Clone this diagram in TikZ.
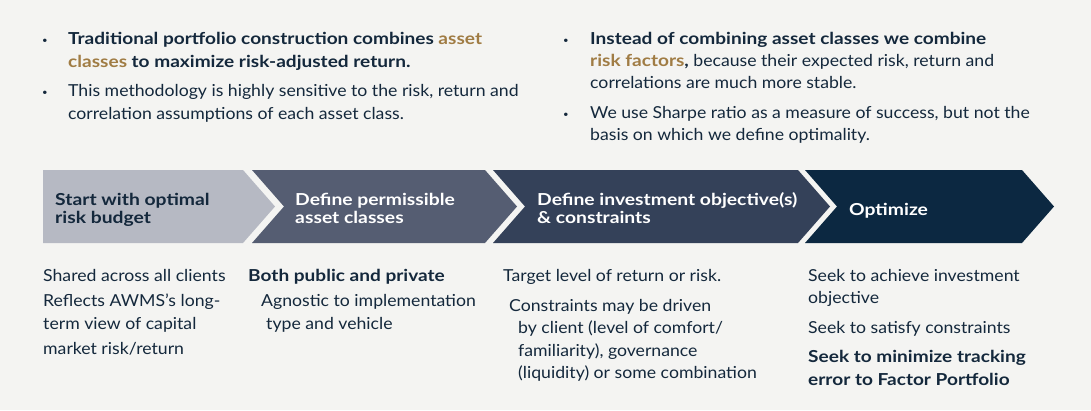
\documentclass[tikz,border=0pt]{standalone}
\usepackage{fontspec}
\setmainfont{Lato}[FakeStretch=1.07]
\newfontfamily\bfam{Lato}[FakeStretch=1.155]
\newfontfamily\cfam{Lato}[FakeStretch=1.17]
\definecolor{bgc}{HTML}{F4F4F2}
\definecolor{navy}{HTML}{14283C}
\definecolor{gold}{HTML}{A07C44}
\definecolor{chA}{HTML}{B6B9C3}
\definecolor{chB}{HTML}{555D72}
\definecolor{chC}{HTML}{344159}
\definecolor{chD}{HTML}{0C2841}
\tikzset{
  txt/.style={anchor=base west, inner sep=0pt, text=navy, font=\fontsize{16.5}{19}\selectfont},
  btxt/.style={txt, font=\fontsize{16.5}{19}\selectfont\bfam\bfseries},
  bul/.style={anchor=base, inner sep=0pt, text=navy, font=\fontsize{9}{10}\selectfont},
  chlab/.style={anchor=base west, inner sep=0pt, text=white, font=\fontsize{16.5}{18}\selectfont\cfam\bfseries},
}
\begin{document}
\begin{tikzpicture}[x=1pt,y=-1pt]
\fill[bgc] (0,0) rectangle (1091,410);
\useasboundingbox (0,0) rectangle (1091,410);

% top left
\node[bul] (b1) at (45,43) {•};
\node[btxt] (tl1) at (68,44) {Traditional portfolio construction combines \textcolor{gold}{asset}};
\node[btxt] (tl2) at (68,67) {\textcolor{gold}{classes} to maximize risk-adjusted return.};
\node[bul] (b2) at (45,95) {•};
\node[txt] (tl3) at (68,96) {This methodology is highly sensitive to the risk, return and};
\node[txt] (tl4) at (68,119) {correlation assumptions of each asset class.};

% top right
\node[bul] (b3) at (566,43) {•};
\node[btxt] (tr1) at (590,44) {Instead of combining asset classes we combine};
\node[txt] (tr2) at (590,66) {{\bfam\bfseries\textcolor{gold}{risk factors},} because their expected risk, return and};
\node[txt] (tr3) at (590,88) {correlations are much more stable.};
\node[bul] (b4) at (566,117) {•};
\node[txt] (tr4) at (590,118) {We use Sharpe ratio as a measure of success, but not the};
\node[txt] (tr5) at (590,140) {basis on which we define optimality.};

% chevrons
\fill[chA] (43,170) -- (243,170) -- (275,206.5) -- (243,243) -- (43,243) -- cycle;
\fill[chB] (252,170) -- (485,170) -- (517,206.5) -- (485,243) -- (252,243) -- (284,206.5) -- cycle;
\fill[chC] (493,170) -- (798,170) -- (830,206.5) -- (798,243) -- (493,243) -- (525,206.5) -- cycle;
\fill[chD] (805,170) -- (1022,170) -- (1054,206.5) -- (1022,243) -- (805,243) -- (837,206.5) -- cycle;

\node[chlab, text=navy] (c1a) at (55,205) {Start with optimal};
\node[chlab, text=navy] (c1b) at (55,223) {risk budget};
\node[chlab] (c2a) at (295,205) {Define permissible};
\node[chlab] (c2b) at (295,223) {asset classes};
\node[chlab] (c3a) at (537,205) {Define investment objective(s)};
\node[chlab] (c3b) at (537,223) {\& constraints};
\node[chlab] (c4a) at (849,215) {Optimize};

% bottom col1
\node[txt] (d1) at (43,281) {Shared across all clients};
\node[txt] (d2) at (43,306) {Reflects AWMS’s long-};
\node[txt] (d3) at (43,329) {term view of capital};
\node[txt] (d4) at (43,354) {market risk/return};
% col2
\node[btxt] (e1) at (248,281) {Both public and private};
\node[txt] (e2) at (261,306) {Agnostic to implementation};
\node[txt] (e3) at (266,329) {type and vehicle};
% col3
\node[txt] (f1) at (503,281) {Target level of return or risk.};
\node[txt] (f2) at (509,311) {Constraints may be driven};
\node[txt] (f3) at (518,333) {by client (level of comfort/};
\node[txt] (f4) at (518,356) {familiarity), governance};
\node[txt] (f5) at (518,378) {(liquidity) or some combination};
% col4
\node[txt] (g1) at (808,281) {Seek to achieve investment};
\node[txt] (g2) at (808,303) {objective};
\node[txt] (g3) at (808,333) {Seek to satisfy constraints};
\node[btxt] (g4) at (808,362) {Seek to minimize tracking};
\node[btxt] (g5) at (808,385) {error to Factor Portfolio};
\end{tikzpicture}
\end{document}
